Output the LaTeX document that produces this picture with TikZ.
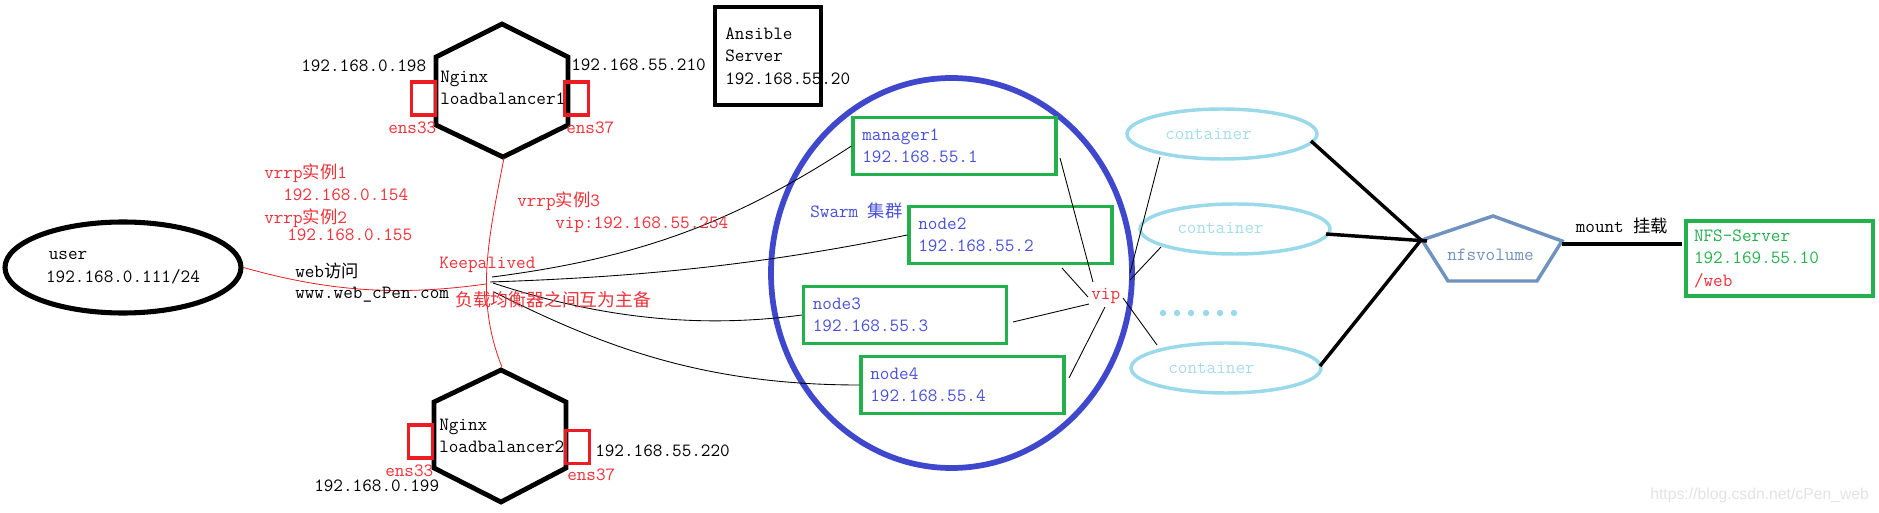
\documentclass[tikz,border=0pt]{standalone}
\usepackage{fontspec}
\usetikzlibrary{shapes.geometric}
\newfontfamily\cjk{Noto Sans CJK SC}
\newfontfamily\wmfont{Liberation Sans}
\newcommand{\CJ}[1]{{\cjk\fontsize{13}{17}\selectfont #1}}
\definecolor{cred}{HTML}{ED1C24}
\definecolor{tred}{HTML}{F03038}
\definecolor{cgreen}{HTML}{22B14C}
\definecolor{cblue}{HTML}{3F48CC}
\definecolor{tblue}{HTML}{4850D8}
\definecolor{lblue}{HTML}{99D9EA}
\definecolor{tlblue}{HTML}{A6DEEC}
\definecolor{pblue}{HTML}{7092BE}
\tikzset{
  txt/.style={font=\ttfamily\fontsize{14}{16.9}\selectfont, inner sep=0pt, anchor=west, align=left, text=black},
  redtxt/.style={txt, text=tred},
  hexa/.style={draw=black, line width=3.6pt, miter limit=10},
  redbox/.style={draw=cred, line width=2.4pt, inner sep=0pt, minimum width=24*.75pt, minimum height=33*.75pt},
  greenbox/.style={draw=cgreen, line width=2.4pt, minimum width=203*.75pt, minimum height=57*.75pt, inner xsep=7pt, inner ysep=0pt, text width=203*.75pt-14pt, align=left, font=\ttfamily\fontsize{14}{16.9}\selectfont, text=tblue},
  contain/.style={ellipse, draw=lblue, line width=2.6pt, minimum width=190*.75pt, minimum height=50*.75pt, inner sep=0pt},
  contxt/.style={txt, text=tlblue},
  thinline/.style={draw=black, line width=.65pt},
  thickline/.style={draw=black, line width=2.6pt},
  redline/.style={draw=cred, line width=.6pt},
}
\begin{document}
\begin{tikzpicture}[x=.75pt,y=-.75pt]
\useasboundingbox (0,0) rectangle (1879,513);
\fill[white] (0,0) rectangle (1879,513);

% swarm ellipse
\node[ellipse, draw=cblue, line width=4.3pt, minimum width=361*.75pt, minimum height=390*.75pt, inner sep=0pt] (swarm) at (951.5,273) {};

% hexagons
\coordinate (h1t) at (502,24); \coordinate (h1ur) at (568,57); \coordinate (h1lr) at (568,125);
\coordinate (h1b) at (503,157); \coordinate (h1ll) at (436,125); \coordinate (h1ul) at (436,57);
\draw[hexa] (h1t) -- (h1ur) -- (h1lr) -- (h1b) -- (h1ll) -- (h1ul) -- cycle;
\coordinate (h2t) at (501,370); \coordinate (h2ur) at (566,402); \coordinate (h2lr) at (566,468);
\coordinate (h2b) at (501,502); \coordinate (h2ll) at (434,468); \coordinate (h2ul) at (434,402);
\draw[hexa] (h2t) -- (h2ur) -- (h2lr) -- (h2b) -- (h2ll) -- (h2ul) -- cycle;

% interface boxes
\node[redbox] (b1l) at (423.5,98.5) {};
\node[redbox] (b1r) at (576.5,98.5) {};
\node[redbox] (b2l) at (420.5,441.5) {};
\node[redbox] (b2r) at (577.5,447) {};

% user
\node[ellipse, draw=black, line width=3.8pt, minimum width=236*.75pt, minimum height=91*.75pt, inner sep=0pt, align=left, font=\ttfamily\fontsize{14}{16.9}\selectfont] (user) at (123,267.5) {\hspace*{2pt}user\\192.168.0.111/24};

% ansible
\node[draw=black, line width=2.8pt, minimum width=106*.75pt, minimum height=98*.75pt, inner sep=0pt] (ans) at (768,56) {};
\node[txt] (anst) at (725,56) {Ansible\\Server\\192.168.55.20};

% swarm nodes
\node[greenbox] (n1) at (954.5,146) {manager1\\192.168.55.1};
\node[greenbox] (n2) at (1010.5,235) {node2\\192.168.55.2};
\node[greenbox] (n3) at (905,315) {node3\\192.168.55.3};
\node[greenbox] (n4) at (962.5,385) {node4\\192.168.55.4};
\node[txt, text=tblue] (swt) at (810,211) {Swarm \CJ{集群}};
\node[redtxt] (vip) at (1091,296) {vip};

% containers
\node[contain] (c1) at (1222,134) {};
\node[contain] (c2) at (1235,229) {};
\node[contain] (c3) at (1226,368) {};
\node[contxt] (c1t) at (1165,134) {container};
\node[contxt] (c2t) at (1177,228) {container};
\node[contxt] (c3t) at (1168,368) {container};
\foreach \i/\x in {1/1163,2/1177,3/1191,4/1206,5/1220,6/1234}{
  \fill[lblue] (\x,313) circle (2.4pt);
}

% nfs
\coordinate (pt) at (1493,216); \coordinate (pr) at (1562,241); \coordinate (pbr) at (1537,281);
\coordinate (pbl) at (1448,281); \coordinate (pl) at (1422,240);
\draw[draw=pblue, line width=2.6pt] (pt) -- (pr) -- (pbr) -- (pbl) -- (pl) -- cycle;
\node[txt, text=pblue] (nfsv) at (1447,255) {nfsvolume};
\node[draw=cgreen, line width=2.4pt, minimum width=187*.75pt, minimum height=75*.75pt, inner xsep=6pt, inner ysep=0pt, text width=187*.75pt-12pt, align=left, font=\ttfamily\fontsize{14}{16.9}\selectfont, text=cgreen] (nfs) at (1779.5,258.5) {NFS-Server\\192.169.55.10\\\textcolor{tred}{/web}};
\node[txt] (mnt) at (1575.5,226) {mount \CJ{挂载}};

% connectors: thick
\coordinate (tk1) at (1311,141); \coordinate (tk2) at (1326,234); \coordinate (tk3) at (1320,366);
\coordinate (tkc) at (1421,240); \coordinate (tkd) at (1427,241);
\draw[thickline] (tk1) -- (tkc);
\draw[thickline] (tk2) -- (tkd);
\draw[thickline] (tk3) -- (tkc);
\coordinate (ms) at (1562,244); \coordinate (me) at (1682,244);
\draw[thickline] (ms) -- (me);

% thin vip lines
\coordinate (v1a) at (1060,158); \coordinate (v1b) at (1093,282);
\coordinate (v2a) at (1062,268); \coordinate (v2b) at (1088,297);
\coordinate (v3a) at (1013,322); \coordinate (v3b) at (1089,304);
\coordinate (v4a) at (1069,378); \coordinate (v4b) at (1105,307);
\coordinate (v5a) at (1160,157); \coordinate (v5b) at (1130,273);
\coordinate (v6a) at (1161,247); \coordinate (v6b) at (1130,280);
\coordinate (v7a) at (1123,298); \coordinate (v7b) at (1157,345);
\draw[thinline] (v1a) -- (v1b);
\draw[thinline] (v2a) -- (v2b);
\draw[thinline] (v3a) -- (v3b);
\draw[thinline] (v4a) -- (v4b);
\draw[thinline] (v5a) -- (v5b);
\draw[thinline] (v6a) -- (v6b);
\draw[thinline] (v7a) -- (v7b);

% keepalived fan
\coordinate (f1) at (492,277); \coordinate (f2) at (490,282); \coordinate (f3) at (493,283); \coordinate (f4) at (494,292);
\draw[thinline] (f1) .. controls (640,258) and (735,222) .. (n1.west);
\draw[thinline] (f2) .. controls (640,277) and (760,265) .. (n2.west);
\draw[thinline] (f3) .. controls (590,315) and (690,330) .. (n3.west);
\draw[thinline] (f4) .. controls (600,345) and (700,385) .. (n4.west);

% red connectors
\coordinate (hub) at (486,284);
\coordinate (h1s) at (504,158); \coordinate (h2s) at (502,367);
\draw[redline] (h1s) .. controls (488,240) and (475,300) .. (h2s);
\draw[redline] (user.east) .. controls (330,292) and (400,296) .. (hub);

% labels
\node[txt] (a1) at (301,66) {192.168.0.198};
\node[txt] (a2) at (571,65) {192.168.55.210};
\node[txt] (a3) at (440,88) {Nginx\\loadbalancer1};
\node[redtxt] (a4) at (388,128) {ens33};
\node[redtxt] (a5) at (566,128) {ens37};
\node[redtxt] (a6) at (264,173) {vrrp\CJ{实例}1};
\node[redtxt] (a7) at (283,195) {192.168.0.154};
\node[redtxt] (a8) at (264,218) {vrrp\CJ{实例}2};
\node[redtxt] (a9) at (287,235) {192.168.0.155};
\node[txt] (a10) at (295,271) {web\CJ{访问}};
\node[txt] (a11) at (295,295) {www.web\_cPen.com};
\node[redtxt] (a12) at (439,265) {Keepalived};
\node[inner sep=0pt, anchor=west, text=tred, font=\cjk\fontsize{13.35}{17}\selectfont] (a13) at (455,300) {负载均衡器之间互为主备};
\node[redtxt] (a14) at (517,201) {vrrp\CJ{实例}3};
\node[redtxt] (a15) at (555,225) {vip:192.168.55.254};
\node[txt] (a16) at (439,436) {Nginx\\loadbalancer2};
\node[txt] (a17) at (595,451) {192.168.55.220};
\node[redtxt] (a18) at (385,471) {ens33};
\node[redtxt] (a19) at (567,475) {ens37};
\node[txt] (a20) at (314,486) {192.168.0.199};
\node[inner sep=0pt, anchor=west, text=black!11, font=\wmfont\fontsize{11.8}{14}\selectfont] (wm) at (1650,495) {https://blog.csdn.net/cPen\_web};
\end{tikzpicture}
\end{document}
